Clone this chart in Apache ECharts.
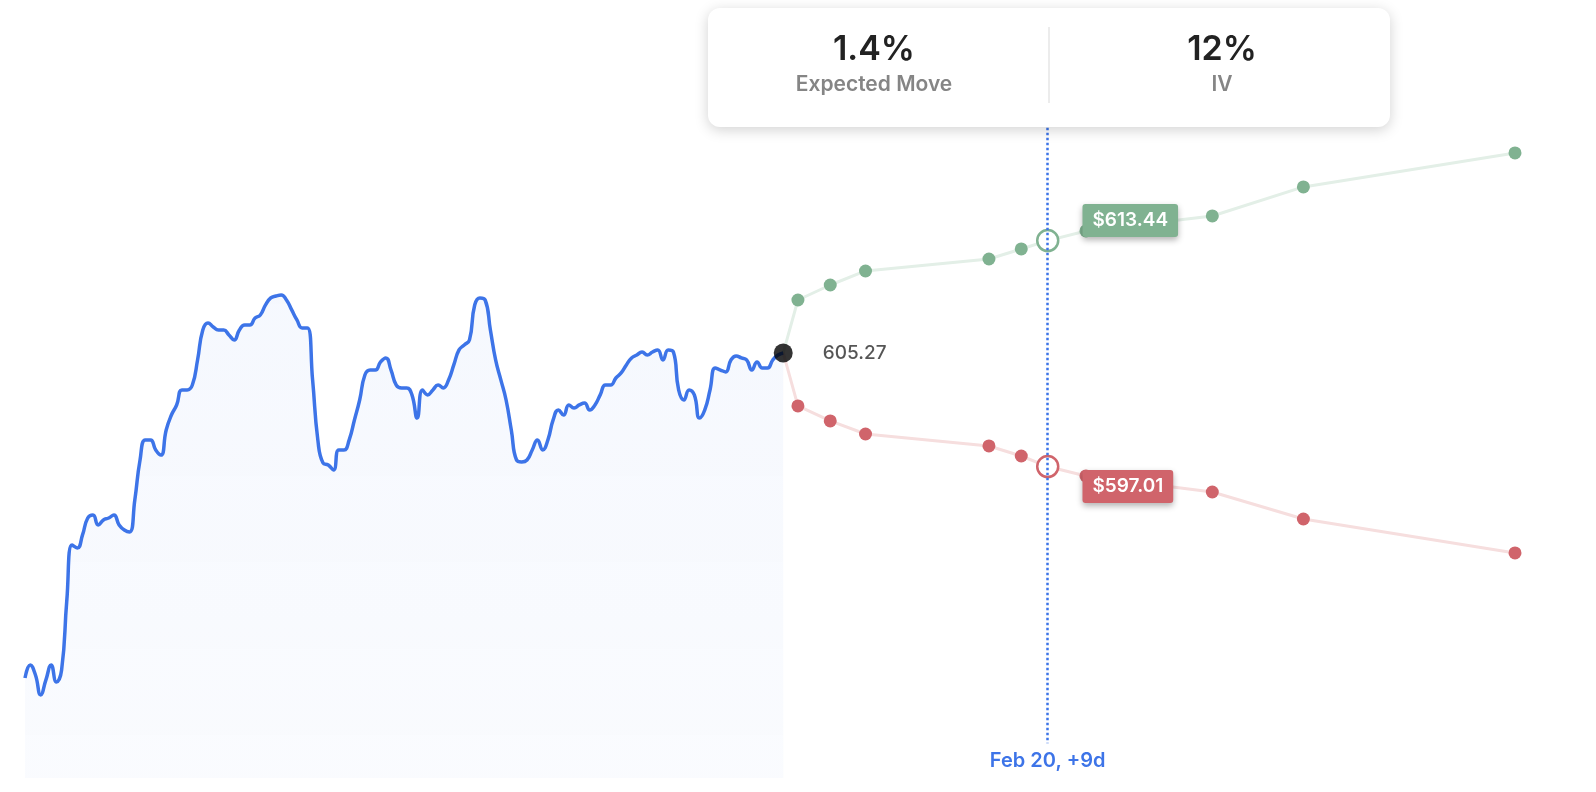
<!DOCTYPE html>
<html>
<head>
<meta charset="utf-8">
<script src="https://cdn.jsdelivr.net/npm/echarts@6/dist/echarts.min.js"></script>
<style>
  html, body { margin: 0; padding: 0; background: #fff; }
  #content { width: 1596px; height: 792px; }
</style>
</head>
<body>
<div id="content"></div>
<script>
// price history, evenly spaced, ending at the current price
var historyPrices = [
    581.64, 582.59, 581.86, 580.41, 581.50, 582.59, 581.35, 582.22, 587.31, 591.31,
    591.09, 592.04, 593.27, 593.49, 592.77, 593.13, 593.27, 593.49, 592.77, 592.40,
    592.26, 594.58, 597.49, 598.95, 598.95, 598.22, 597.85, 599.67, 600.76, 601.49,
    602.58, 602.58, 602.94, 604.76, 606.94, 607.45, 607.16, 606.94, 606.94, 606.58,
    606.22, 606.94, 607.31, 607.31, 607.81, 608.03, 608.76, 609.27, 609.41, 609.49,
    609.12, 608.40, 607.67, 607.09, 607.09, 603.31, 598.95, 597.27, 597.13, 596.76,
    598.22, 598.22, 598.95, 600.40, 601.85, 603.67, 604.03, 604.03, 604.62, 604.91,
    604.03, 602.94, 602.73, 602.73, 602.22, 600.54, 602.58, 602.22, 602.58, 602.94,
    602.73, 603.31, 604.40, 605.49, 605.85, 606.22, 608.76, 609.27, 609.12, 606.94,
    604.76, 603.31, 601.85, 599.67, 597.49, 597.35, 597.49, 598.22, 598.95, 598.22,
    598.95, 600.40, 601.13, 600.76, 601.49, 601.27, 601.49, 601.63, 601.13, 601.49,
    602.22, 602.94, 602.94, 603.45, 603.82, 604.40, 604.91, 605.12, 605.34, 605.12,
    605.34, 605.49, 604.76, 605.49, 605.34, 602.58, 601.85, 602.58, 602.22, 600.54,
    601.13, 602.58, 604.18, 604.03, 603.89, 604.76, 605.05, 604.91, 604.76, 604.03,
    604.62, 604.18, 604.18, 604.76, 605.12
];
var historyDays = 25.8;
var currentPrice = 605.27;

// expected move projection, days ahead of today
var futureDays = [0.5, 1.6, 2.8, 7.0, 8.1, 9, 10.3, 14.6, 17.7, 24.9];
var upperPrices = [609.12, 610.21, 611.23, 612.10, 612.83, 613.44, 614.14, 615.23, 617.34, 619.81];
var lowerPrices = [601.42, 600.33, 599.38, 598.51, 597.78, 597.01, 596.33, 595.16, 593.20, 590.73];
var selectedDay = 9;
var selectedLabel = 'Feb 20, +9d';

var statValues = ['1.4%', '12%'];
var statNames = ['Expected Move', 'IV'];

var blue = '#3d74e8', green = '#80b291', red = '#d0646b';
var font = 'Inter, "Noto Sans", sans-serif';

var histData = [];
var step = historyDays / historyPrices.length;
for (var i = 0; i < historyPrices.length; i++) {
    histData.push([-historyDays + i * step, historyPrices[i]]);
}
histData.push([0, currentPrice]);

function band(prices, color) {
    var d = [{value: [0, currentPrice], symbolSize: 0}];
    for (var i = 0; i < futureDays.length; i++) {
        var item = {value: [futureDays[i], prices[i]]};
        if (futureDays[i] === selectedDay) {
            item.symbol = 'circle';
            item.symbolSize = 21;
            item.itemStyle = {color: '#fff', borderColor: color, borderWidth: 2.5};
            item.label = {
                show: true, position: 'right',
                offset: [18, prices === upperPrices ? -20 : 20],
                formatter: '$' + prices[i].toFixed(2),
                backgroundColor: color, color: '#fff',
                fontSize: 19, fontWeight: 600, fontFamily: font,
                padding: [7, 10], borderRadius: 3,
                shadowColor: 'rgba(0,0,0,0.3)', shadowBlur: 6, shadowOffsetY: 3
            };
        }
        d.push(item);
    }
    return d;
}

var myChart = echarts.init(document.getElementById('content'));
var option = {
    animation: false,
    grid: {left: 25, right: 81, top: 0, bottom: 14},
    xAxis: {type: 'value', min: -historyDays, max: futureDays[futureDays.length - 1], show: false},
    yAxis: {type: 'value', min: 574.37, max: 630.93, show: false},
    series: [
        {
            type: 'line', data: histData, smooth: true, symbol: 'none',
            lineStyle: {color: blue, width: 3.5},
            areaStyle: {color: new echarts.graphic.LinearGradient(0, 0, 0, 1, [
                {offset: 0, color: 'rgba(61,116,232,0.07)'},
                {offset: 1, color: 'rgba(61,116,232,0.04)'}
            ])},
            z: 3
        },
        {
            type: 'line', data: band(upperPrices, green), symbol: 'circle', symbolSize: 13,
            itemStyle: {color: green}, lineStyle: {color: '#e3efe7', width: 3}, z: 2,
            markLine: {
                silent: true, symbol: 'none',
                lineStyle: {color: blue, type: 'dotted', width: 2.5},
                label: {show: true, position: 'end', formatter: selectedLabel, color: blue,
                    fontSize: 20, fontWeight: 600, fontFamily: font, distance: 8},
                data: [[{coord: [selectedDay, 630]}, {coord: [selectedDay, 576.9]}]]
            }
        },
        {
            type: 'line', data: band(lowerPrices, red), symbol: 'circle', symbolSize: 13,
            itemStyle: {color: red}, lineStyle: {color: '#f6dede', width: 3}, z: 2
        },
        {
            type: 'scatter', data: [[0, currentPrice]], symbolSize: 19,
            itemStyle: {color: '#000'}, z: 5,
            label: {show: true, position: 'right', distance: 30, formatter: currentPrice.toFixed(2),
                color: '#2a2a2a', fontSize: 19, fontWeight: 500, fontFamily: font}
        }
    ],
    graphic: [
        {
            type: 'rect', left: 708, top: 8, z: 10,
            shape: {width: 682, height: 119, r: 12},
            style: {fill: '#fff', shadowColor: 'rgba(0,0,0,0.18)', shadowBlur: 14, shadowOffsetY: 3}
        },
        {type: 'rect', left: 1048, top: 27, z: 11, shape: {width: 2, height: 76}, style: {fill: '#ececec'}},
        {type: 'text', x: 874, y: 50, z: 11, style: {text: statValues[0], fill: '#222', font: '600 34px ' + font, textAlign: 'center', textVerticalAlign: 'middle'}},
        {type: 'text', x: 874, y: 85, z: 11, style: {text: statNames[0], fill: '#858585', font: '600 21px ' + font, textAlign: 'center', textVerticalAlign: 'middle'}},
        {type: 'text', x: 1222, y: 50, z: 11, style: {text: statValues[1], fill: '#222', font: '600 34px ' + font, textAlign: 'center', textVerticalAlign: 'middle'}},
        {type: 'text', x: 1222, y: 85, z: 11, style: {text: statNames[1], fill: '#858585', font: '600 21px ' + font, textAlign: 'center', textVerticalAlign: 'middle'}}
    ]
};
myChart.setOption(option);
</script>
</body>
</html>
